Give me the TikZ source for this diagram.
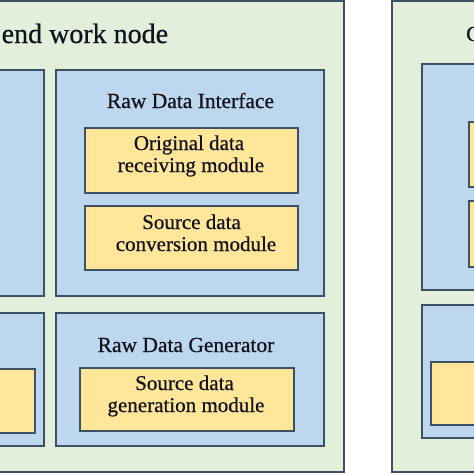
\documentclass[tikz,border=0pt]{standalone}
\usepackage{fontspec}
\setmainfont{Liberation Serif}[FakeBold=0.6]
\definecolor{greenF}{RGB}{226,239,218}
\definecolor{blueF}{RGB}{189,215,238}
\definecolor{orangeF}{RGB}{255,230,153}
\definecolor{edgeC}{RGB}{62,80,100}
\definecolor{txtC}{RGB}{18,18,30}
\newcommand{\mybox}[6]{\node[#2, anchor=north west, minimum width={(#5)*1pt-(#3)*1pt}, minimum height={(#6)*1pt-(#4)*1pt}] (#1) at (#3,#4) {};}
\begin{document}
\begin{tikzpicture}[x=1pt,y=-1pt,
  boxbase/.style={draw=edgeC, line width=1.5pt, inner sep=0pt, outer sep=0pt, rectangle},
  greenbox/.style={boxbase, fill=greenF},
  bluebox/.style={boxbase, fill=blueF},
  orangebox/.style={boxbase, fill=orangeF},
  titletxt/.style={inner sep=0pt, text=txtC, font=\fontsize{28}{32}\selectfont},
  labeltxt/.style={inner sep=0pt, text=txtC, font=\fontsize{21.5}{24}\selectfont, anchor=base},
  modtxt/.style={inner sep=0pt, text=txtC, font=\fontsize{21}{22}\selectfont, anchor=base}]
\useasboundingbox (0,0) rectangle (474,474);
\clip (0,0) rectangle (474,474);
\fill[white] (0,0) rectangle (474,474);
% left work node
\mybox{gL}{greenbox}{-10}{1}{344}{472}
\mybox{bL1}{bluebox}{-10}{70}{44}{296}
\mybox{bL2}{bluebox}{-10}{313}{44}{446}
\mybox{oL3}{orangebox}{-10}{369}{35}{433}
\mybox{rdi}{bluebox}{56}{70}{324}{296}
\mybox{o1}{orangebox}{85}{128}{298}{193}
\mybox{o2}{orangebox}{85}{206}{298}{270}
\mybox{rdg}{bluebox}{56}{313}{324}{446}
\mybox{o3}{orangebox}{80}{368}{294}{431}
% right work node
\mybox{gR}{greenbox}{392}{1}{490}{472}
\mybox{bR1}{bluebox}{422}{64}{490}{290}
\mybox{oR1}{orangebox}{469}{122}{490}{187}
\mybox{oR2}{orangebox}{469}{201}{490}{267}
\mybox{bR2}{bluebox}{422}{305}{490}{438}
\mybox{oR3}{orangebox}{431}{362}{490}{425}
% texts
\node[titletxt, anchor=base west] (tL) at (1.5,43) {end work node};
\node[inner sep=0pt, text=txtC, font=\fontsize{21.5}{24}\selectfont, anchor=base west] (tR) at (466,41) {C};
\node[labeltxt] (rdiT) at (190.5,108) {Raw Data Interface};
\node[modtxt] (o1a) at (189,150) {Original data};
\node[modtxt] (o1b) at (191,172) {receiving module};
\node[modtxt] (o2a) at (191.5,229) {Source data};
\node[modtxt] (o2b) at (196,251) {conversion module};
\node[labeltxt] (rdgT) at (186,352) {Raw Data Generator};
\node[modtxt] (o3a) at (184.5,390) {Source data};
\node[modtxt] (o3b) at (186,412) {generation module};
\end{tikzpicture}
\end{document}
